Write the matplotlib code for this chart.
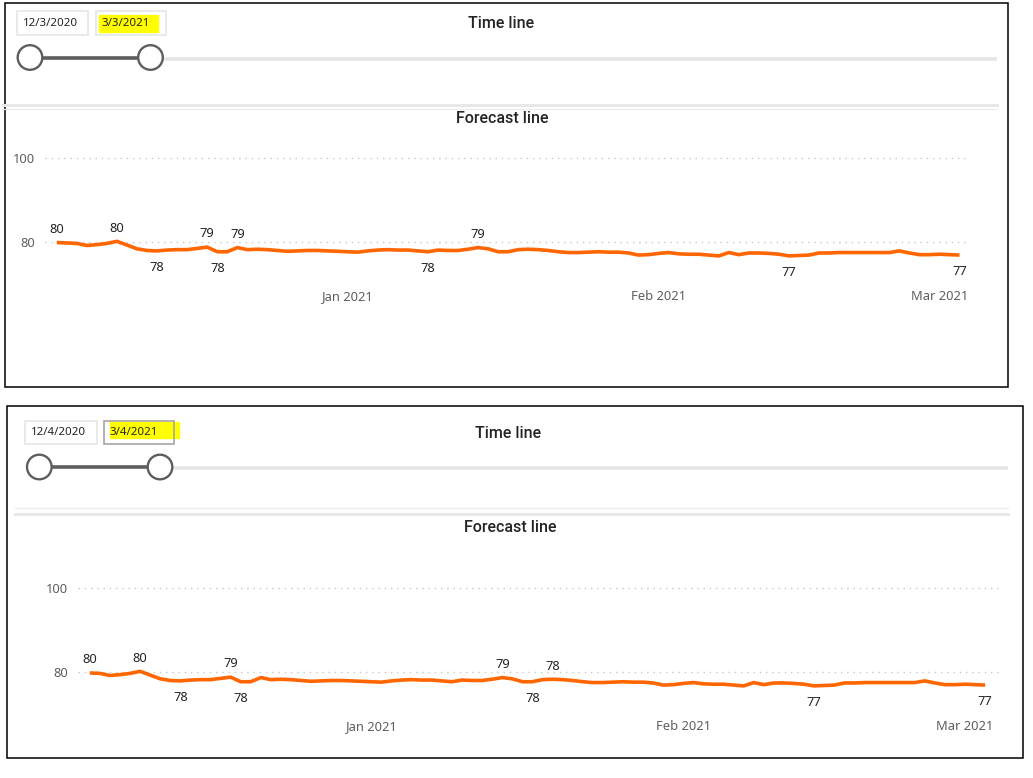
import datetime as dt
import matplotlib
matplotlib.use("Agg")
import matplotlib.pyplot as plt
import matplotlib.dates as mdates
from matplotlib.patches import Rectangle, Circle

# daily forecast values, 3 Dec 2020 .. 3 Mar 2021
start_date = dt.date(2020, 12, 3)
forecast = [
    79.8, 79.7, 79.6, 79.1, 79.3, 79.6, 80.1, 79.2, 78.3, 77.9,
    77.8, 78.0, 78.1, 78.1, 78.4, 78.7, 77.6, 77.6, 78.6, 78.1,
    78.2, 78.1, 77.9, 77.7, 77.8, 77.9, 77.9, 77.8, 77.7, 77.6,
    77.5, 77.8, 78.0, 78.1, 78.0, 78.0, 77.8, 77.6, 78.0, 77.9,
    77.9, 78.2, 78.6, 78.3, 77.6, 77.6, 78.1, 78.2, 78.1, 77.9,
    77.6, 77.4, 77.4, 77.5, 77.6, 77.5, 77.5, 77.3, 76.8, 76.9,
    77.2, 77.4, 77.1, 77.0, 77.0, 76.8, 76.6, 77.4, 76.9, 77.3,
    77.3, 77.2, 77.0, 76.6, 76.7, 76.8, 77.3, 77.3, 77.4, 77.4,
    77.4, 77.4, 77.4, 77.4, 77.8, 77.3, 76.9, 76.9, 77.0, 76.9,
    76.8,
]
dates = [start_date + dt.timedelta(days=i) for i in range(len(forecast))]

# data labels shown by the visual: (day index, above/below)
labels_top = [(0, "up"), (6, "up"), (10, "down"), (15, "up"), (16, "down"),
              (18, "up"), (37, "down"), (42, "up"), (73, "down"), (90, "down")]
labels_bottom = [(1, "up"), (6, "up"), (10, "down"), (15, "up"), (16, "down"),
                 (42, "up"), (45, "down"), (47, "up"), (73, "down"), (90, "down")]

yticks = [80, 100]
xticks = [dt.date(2021, 1, 1), dt.date(2021, 2, 1), dt.date(2021, 3, 1)]

W, H = 1033, 778
ORANGE = "#FF6600"
GREY = "#605E5C"
TITLE_FONT = ["Roboto", "DejaVu Sans"]
TEXT_FONT = ["Noto Sans", "DejaVu Sans"]

fig = plt.figure(figsize=(W / 100, H / 100), dpi=100)
bg = fig.add_axes([0, 0, 1, 1])
bg.set_xlim(0, W)
bg.set_ylim(H, 0)
bg.axis("off")


def px_axes(left, top, right, bottom):
    return fig.add_axes([left / W, 1 - bottom / H, (right - left) / W, (bottom - top) / H])


def date_box(x0, x1, y0, y1, text, edge, highlight=None):
    if highlight is not None:
        hx0, hx1, hy0, hy1 = highlight
        bg.add_patch(Rectangle((hx0, hy0), hx1 - hx0, hy1 - hy0, color="#FFFF00", zorder=1))
    bg.add_patch(Rectangle((x0, y0), x1 - x0, y1 - y0, fill=False, ec=edge, lw=1.2, zorder=2))
    bg.text(x0 + 6, (y0 + y1) / 2 + 0.5, text, ha="left", va="center", fontsize=8.3,
            color="#252423", family=TEXT_FONT, zorder=3)


def slider(y, xl, xr, track_end):
    bg.plot([xr, track_end], [y + 1, y + 1], color="#E6E6E6", lw=2.6, solid_capstyle="butt", zorder=1)
    bg.plot([xl, xr], [y, y], color=GREY, lw=2.6, solid_capstyle="butt", zorder=2)
    for cx in (xl, xr):
        bg.add_patch(Circle((cx, y), 12.3, fc="white", ec=GREY, lw=1.7, zorder=3))


def line_chart(ax, values, first, day0_px, px_per_day, left, right, labels):
    base = mdates.date2num(first)
    ax.set_xlim(base + (left - day0_px) / px_per_day, base + (right - day0_px) / px_per_day)
    ax.set_ylim(70.1, 104.4)
    ax.set_facecolor("none")
    for s in ax.spines.values():
        s.set_visible(False)
    ax.plot([first + dt.timedelta(days=i) for i in range(len(values))], values,
            color=ORANGE, lw=2.6, solid_joinstyle="round", solid_capstyle="butt", zorder=3)
    ax.set_yticks(yticks)
    ax.set_xticks(xticks)
    ax.xaxis.set_major_formatter(mdates.DateFormatter("%b %Y"))
    ax.tick_params(length=0, labelsize=9.3, labelcolor=GREY)
    ax.tick_params(axis="x", pad=5)
    ax.tick_params(axis="y", pad=7)
    for lab in ax.get_xticklabels() + ax.get_yticklabels():
        lab.set_family(TEXT_FONT)
    ax.grid(axis="y", color="#C8C8C8", lw=1, linestyle=(0, (1, 3.5)))
    ax.grid(axis="x", visible=False)
    for idx, pos in labels:
        v = values[idx]
        off = 9.5 if pos == "up" else -12
        ax.annotate(f"{v:.0f}", (mdates.date2num(first + dt.timedelta(days=idx)), v),
                    xytext=(0, off), textcoords="offset points", ha="center", va="center",
                    fontsize=9.3, color="#252423", family=TEXT_FONT, zorder=4)


# ---------- top screenshot ----------
bg.add_patch(Rectangle((5, 3), 1003, 384, fill=False, ec="black", lw=1.1))
date_box(16.5, 88, 10.5, 34.5, "12/3/2020", "#E6E6E6")
date_box(95.5, 165.5, 10.5, 34.5, "3/3/2021", "#E6E6E6", highlight=(99, 158, 15, 32))
bg.text(501, 23, "Time line", ha="center", va="center", fontsize=11.5, color="#252423",
        family=TITLE_FONT, fontweight="medium")
slider(57.5, 30, 150.5, 997)
bg.plot([3, 997], [104.5, 104.5], color="#E8E8E8", lw=2.2)
bg.plot([3, 997], [108.5, 108.5], color="#EBEBEB", lw=0.8)
bg.text(502, 118, "Forecast line", ha="center", va="center", fontsize=11.5, color="#252423",
        family=TITLE_FONT, fontweight="medium")

ax1 = px_axes(45, 140, 968, 283)
line_chart(ax1, forecast, start_date, 56.8, 10.03, 45, 968, labels_top)

# ---------- bottom screenshot ----------
bg.add_patch(Rectangle((7, 406), 1016, 352, fill=False, ec="black", lw=1.1))
date_box(24.5, 96.5, 420.5, 444, "12/4/2020", "#E6E6E6")
date_box(103.5, 174, 420.5, 444, "3/4/2021", "#A6A6A6", highlight=(110, 179, 422, 438))
bg.text(508, 433, "Time line", ha="center", va="center", fontsize=11.5, color="#252423",
        family=TITLE_FONT, fontweight="medium")
slider(467, 39.3, 160, 1008)
bg.plot([15, 1008], [507.5, 507.5], color="#EBEBEB", lw=0.8)
bg.plot([15, 1008], [514, 514], color="#E8E8E8", lw=2.2)
bg.text(510, 528, "Forecast line", ha="center", va="center", fontsize=11.5, color="#252423",
        family=TITLE_FONT, fontweight="medium")

ax2 = px_axes(78, 570, 1000, 713)
line_chart(ax2, forecast[1:], dates[1], 89.8, 10.06, 78, 1000,
           [(i - 1, p) for i, p in labels_bottom])

fig.savefig("out.png", dpi=100, facecolor="white")
